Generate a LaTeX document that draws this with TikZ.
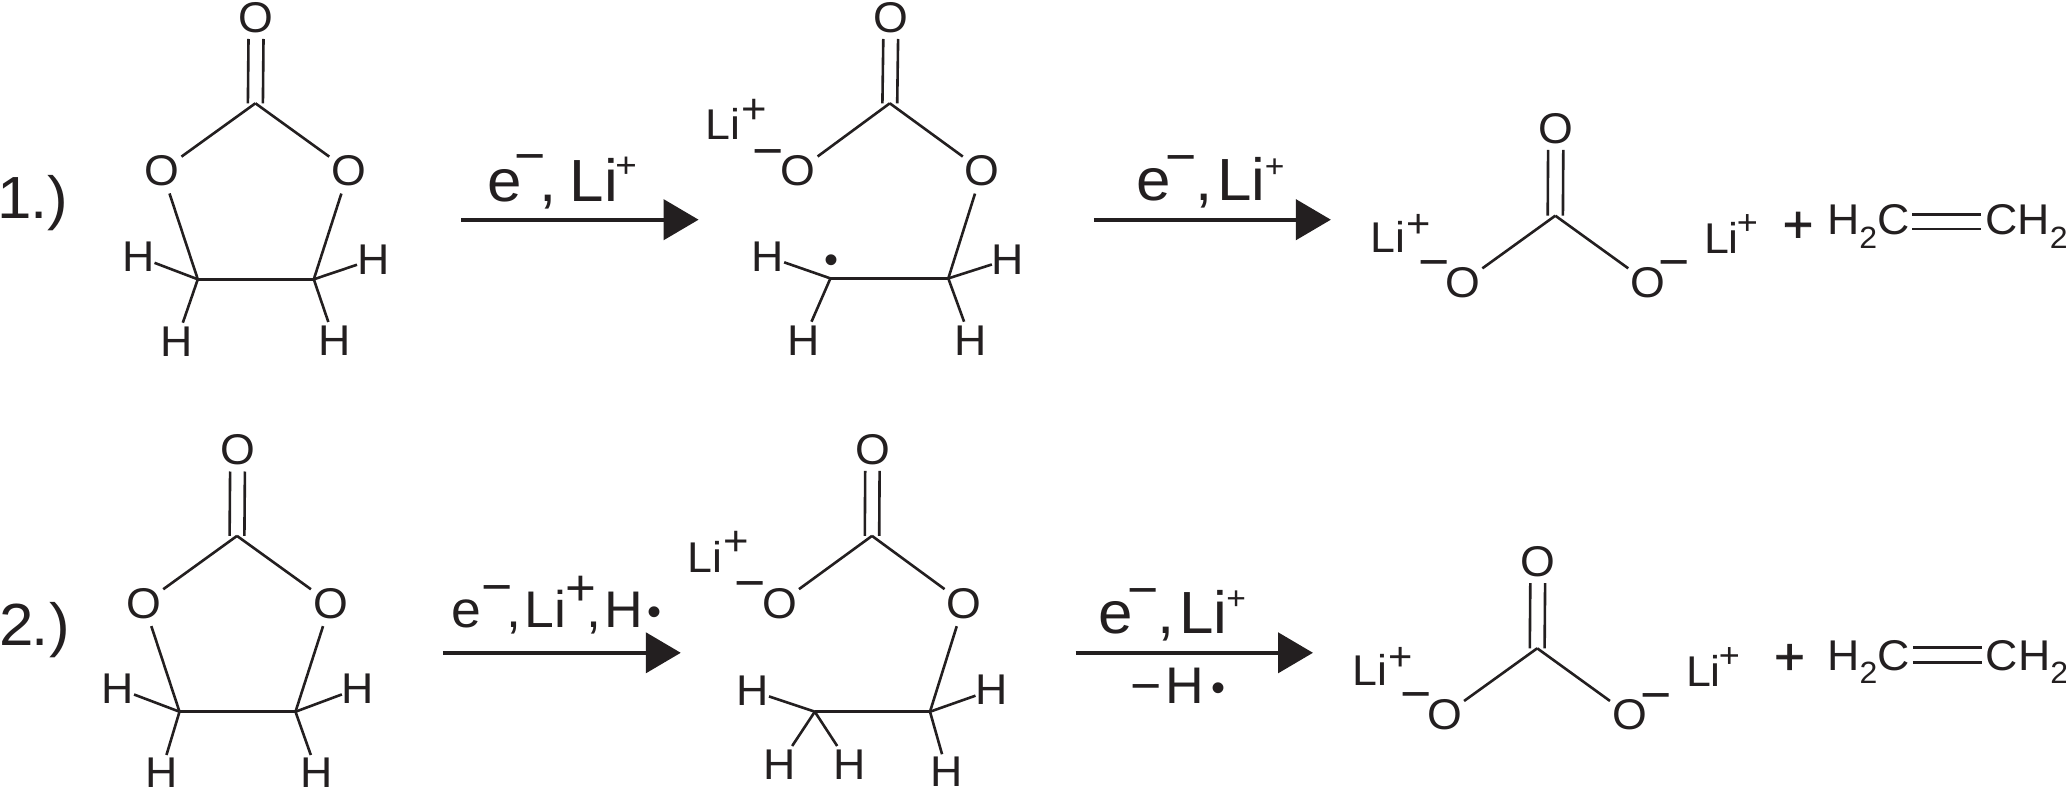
\documentclass[tikz,border=0pt]{standalone}
\usepackage{fontspec}
\setmainfont[FakeStretch=1.04]{Liberation Sans}
\newfontfamily\dotfont{Liberation Sans}
\newfontfamily\plusfont[FakeBold=1.5]{Liberation Sans}
\usetikzlibrary{arrows.meta}
\definecolor{ink}{HTML}{231F20}
\newcommand\chg[4]{\kern#1pt\raisebox{#2pt}{\fontsize{#3pt}{#3pt}\selectfont #4}}
\newcommand\rad[2]{\kern#1pt\raisebox{#2pt}{\fontsize{40pt}{40pt}\dotfont •}}
\newcommand\subtwo{\raisebox{-13.3pt}{\fontsize{30.8pt}{30.8pt}\selectfont 2}}
\newcommand\dblbond[3]{%
  \draw[bond] ([xshift=-#3pt]#1.center) -- ([xshift=-#3pt,yshift=2.5pt]#2.south);
  \draw[bond] ([xshift=#3pt]#1.center) -- ([xshift=#3pt,yshift=2.5pt]#2.south);}
\tikzset{
  lab/.style={inner sep=0pt,outer sep=0pt,text=ink,font=\fontsize{#1pt}{#1pt}\selectfont},
  atomO/.style={lab=43,shape=circle,minimum size=48pt},
  atomH/.style={lab=43,shape=rectangle,minimum width=32pt,minimum height=38pt},
  atomHlow/.style={lab=43,shape=rectangle,minimum width=32pt,minimum height=35pt},
  ion/.style={lab=43,anchor=base west},
  bar/.style={lab=51.5,anchor=base,yshift=-18.2pt},
  bigplus/.style={lab=52,anchor=base,yshift=-18.4pt},
  bond/.style={line width=2.6pt,draw=ink},
  reacts/.style={line width=4.3pt,draw=ink,-{Triangle[length=35pt,width=40pt]}},
}
\begin{document}
\begin{tikzpicture}[x=1pt,y=-1pt]
\useasboundingbox (0,0) rectangle (2066,791);

% row labels
\node[lab=59.5,anchor=base west] (r1) at (-2,218.3) {1\kern-2pt.)};
\node[lab=59.5,anchor=base west] (r2) at (-0.5,645) {2\kern-2pt.)};

% ---------- molecule A (row 1, left)
\coordinate (ac) at (255.4,103.3);
\coordinate (acl) at (197.8,279.3);
\coordinate (acr) at (313.8,279.3);
\node[atomO] (aot) at (256,17.5) {O};
\node[atomO] (aol) at (162,170.7) {O};
\node[atomO] (aor) at (348.7,170.7) {O};
\node[atomH] (ah1) at (138.4,256.7) {H};
\node[atomH] (ah2) at (373.2,259.3) {H};
\node[atomH] (ah3) at (176.3,341.7) {H};
\node[atomH] (ah4) at (334.8,341) {H};
\dblbond{ac}{aot}{7.5}
\draw[bond] (ac) -- (aol);
\draw[bond] (ac) -- (aor);
\draw[bond] (aol) -- (acl);
\draw[bond] (aor) -- (acr);
\draw[bond] (acl) -- (acr);
\draw[bond] (acl) -- (ah1);
\draw[bond] (acl) -- (ah3);
\draw[bond] (acr) -- (ah2);
\draw[bond] (acr) -- (ah4);

% arrow 1
\coordinate (a1s) at (461,219.7);
\coordinate (a1e) at (698.6,219.7);
\draw[reacts] (a1s) -- (a1e);
\node[lab=59.5,anchor=base west] (l1) at (487.7,201.2) {e\chg{-7.4}{27.3}{51.5}{−}\kern-6.7pt,\kern13.5pt Li\chg{-2.7}{23.2}{35.4}{+}};

% ---------- molecule B (row 1, middle)
\coordinate (bc) at (889.8,103.3);
\coordinate (bcl) at (830.4,278.4);
\coordinate (bcr) at (948.3,278.4);
\node[atomO] (bot) at (890.7,17.5) {O};
\node[atomO] (bol) at (798.3,170.7) {O};
\node[atomO] (bor) at (982.2,170.7) {O};
\node[atomH] (bh1) at (768,256.7) {H};
\node[atomH] (bh2) at (1008,259.3) {H};
\node[atomH] (bh3) at (803.2,340.7) {H};
\node[atomH] (bh4) at (971,340.7) {H};
\node[ion] (bli) at (705.6,139.3) {Li\chg{1}{16}{42}{+}};
\node[bar] (bm) at (767.7,150) {−};
\node[lab=40,anchor=base,yshift=-14.8pt] (bdot) at (831.8,259) {\dotfont •};
\dblbond{bc}{bot}{7.4}
\draw[bond] (bc) -- (bol);
\draw[bond] (bc) -- (bor);
\draw[bond] (bor) -- (bcr);
\draw[bond] (bcl) -- (bcr);
\draw[bond] (bcl) -- (bh1);
\draw[bond] (bcl) -- (bh3);
\draw[bond] (bcr) -- (bh2);
\draw[bond] (bcr) -- (bh4);

% arrow 2
\coordinate (a2s) at (1093.8,219.7);
\coordinate (a2e) at (1330.9,219.7);
\draw[reacts] (a2s) -- (a2e);
\node[lab=59.5,anchor=base west] (l2) at (1136.4,201) {e\chg{-5.2}{26}{51.5}{−}\kern-1pt,\kern4.5pt Li\chg{-1}{23.2}{32.3}{+}};

% ---------- molecule C (row 1, right)
\coordinate (cc) at (1555.3,215.7);
\node[atomO] (cot) at (1555.7,128.3) {O};
\node[atomO] (col) at (1462.9,282.4) {O};
\node[atomO] (cor) at (1647.7,282.4) {O};
\node[ion] (cli1) at (1370.6,252.3) {Li\chg{1}{15}{40}{+}};
\node[ion] (cli2) at (1704,254) {Li\chg{-2}{19}{34.6}{+}};
\node[bar] (cm1) at (1434.5,261) {−};
\node[bar] (cm2) at (1674.2,261.7) {−};
\dblbond{cc}{cot}{7.6}
\draw[bond] (cc) -- (col);
\draw[bond] (cc) -- (cor);
\node[bigplus] (cp) at (1798,223.7) {\plusfont +};
\node[ion] (ce1) at (1827,235) {H\subtwo C};
\node[ion] (ce2) at (1985.2,235) {CH\subtwo};
\draw[bond] ([xshift=3pt,yshift=20.7pt]ce1.base east) -- ([xshift=-4pt,yshift=20.7pt]ce2.base west);
\draw[bond] ([xshift=3pt,yshift=6pt]ce1.base east) -- ([xshift=-4pt,yshift=6pt]ce2.base west);

% ---------- molecule D (row 2, left)
\coordinate (dc) at (237,535.9);
\coordinate (dcl) at (179.5,711.7);
\coordinate (dcr) at (295.5,711.7);
\node[atomO] (dot) at (237.5,450) {O};
\node[atomO] (dol) at (143.8,603.3) {O};
\node[atomO] (dor) at (330.4,603.3) {O};
\node[atomH] (dh1) at (117.9,688.4) {H};
\node[atomH] (dh2) at (358,688.4) {H};
\node[atomHlow] (dh3) at (161.2,772.5) {H};
\node[atomHlow] (dh4) at (317,772.5) {H};
\dblbond{dc}{dot}{7.4}
\draw[bond] (dc) -- (dol);
\draw[bond] (dc) -- (dor);
\draw[bond] (dol) -- (dcl);
\draw[bond] (dor) -- (dcr);
\draw[bond] (dcl) -- (dcr);
\draw[bond] (dcl) -- (dh1);
\draw[bond] (dcl) -- (dh3);
\draw[bond] (dcr) -- (dh2);
\draw[bond] (dcr) -- (dh4);

% arrow 3
\coordinate (a3s) at (442.9,652.8);
\coordinate (a3e) at (680.8,652.8);
\draw[reacts] (a3s) -- (a3e);
\node[lab=51.5,anchor=base west] (l3) at (451.9,627.7) {e\chg{0}{23}{51.5}{−}\kern-6.7pt,\kern3.2pt Li\chg{-0.8}{22}{50.8}{+}\kern-9.4pt,\kern2.5pt H\rad{4.4}{2.4}};

% ---------- molecule E (row 2, middle)
\coordinate (ec) at (872,535.9);
\coordinate (ecl) at (814.8,711.7);
\coordinate (ecr) at (930,711.7);
\node[atomO] (eot) at (872.4,449.3) {O};
\node[atomO] (eol) at (779.6,603.3) {O};
\node[atomO] (eor) at (963.9,603.3) {O};
\node[atomH] (eh1) at (752.8,691) {H};
\node[atomH] (eh2) at (991.6,690) {H};
\node[atomH] (eh3) at (779.6,765) {H};
\node[atomH] (eh4) at (849.6,765) {H};
\node[atomHlow] (eh5) at (947,771.7) {H};
\node[ion] (eli) at (687.8,572.6) {Li\chg{0.6}{17}{42}{+}};
\node[bar] (em) at (749.8,582.3) {−};
\dblbond{ec}{eot}{7.2}
\draw[bond] (ec) -- (eol);
\draw[bond] (ec) -- (eor);
\draw[bond] (eor) -- (ecr);
\draw[bond] (ecl) -- (ecr);
\draw[bond] (ecl) -- (eh1);
\draw[bond] (ecl) -- (eh3);
\draw[bond] (ecl) -- (eh4);
\draw[bond] (ecr) -- (eh2);
\draw[bond] (ecr) -- (eh5);

% arrow 4
\coordinate (a4s) at (1075.5,652.8);
\coordinate (a4e) at (1313,652.8);
\draw[reacts] (a4s) -- (a4e);
\node[lab=59.5,anchor=base west] (l4) at (1098.5,633.3) {e\chg{-5.3}{25.7}{51.5}{−}\kern-1.3pt,\kern4.7pt Li\chg{-1.3}{23.5}{32.3}{+}};
\node[lab=51.5,anchor=base west] (l5) at (1130,703.9) {−\kern4pt H\rad{7.9}{2.4}};

% ---------- molecule F (row 2, right)
\coordinate (fc) at (1537.2,648.3);
\node[atomO] (fot) at (1537.7,561.7) {O};
\node[atomO] (fol) at (1444.6,715) {O};
\node[atomO] (for) at (1629.4,715) {O};
\node[ion] (fli1) at (1352.8,685) {Li\chg{1}{15}{40}{+}};
\node[ion] (fli2) at (1686,686) {Li\chg{-2}{19}{34.6}{+}};
\node[bar] (fm1) at (1416.4,693.7) {−};
\node[bar] (fm2) at (1656,694.3) {−};
\dblbond{fc}{fot}{7.4}
\draw[bond] (fc) -- (fol);
\draw[bond] (fc) -- (for);
\node[bigplus] (fp) at (1789.5,656) {\plusfont +};
\node[ion] (fe1) at (1827.4,670) {H\subtwo C};
\node[ion] (fe2) at (1985.8,670) {CH\subtwo};
\draw[bond] ([xshift=3pt,yshift=22.3pt]fe1.base east) -- ([xshift=-4pt,yshift=22.3pt]fe2.base west);
\draw[bond] ([xshift=3pt,yshift=7.3pt]fe1.base east) -- ([xshift=-4pt,yshift=7.3pt]fe2.base west);
\end{tikzpicture}
\end{document}
